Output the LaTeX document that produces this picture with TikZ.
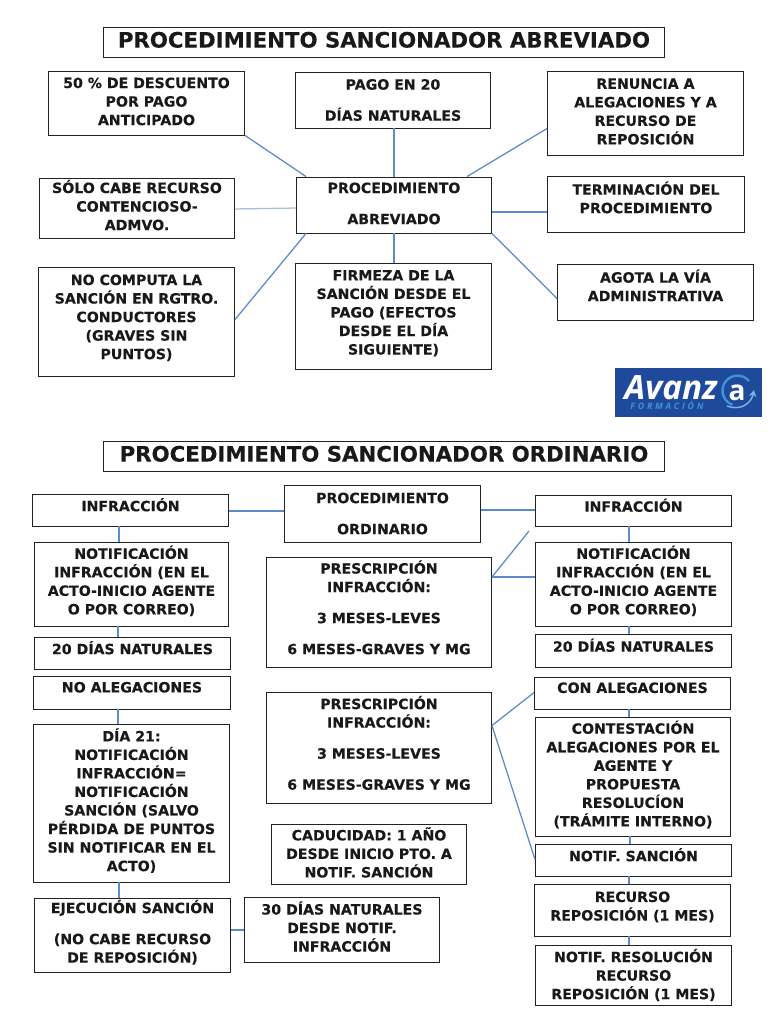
\documentclass[tikz,border=0pt]{standalone}
\usepackage{fontspec}
\setmainfont{DejaVu Sans}[BoldFeatures={FakeBold=0.2}]
\newfontfamily\logofont{Open Sans}
\usetikzlibrary{calc,arrows.meta}
\definecolor{edgeblue}{HTML}{5B8BCB}
\definecolor{boxedge}{HTML}{222222}
\definecolor{logoblue}{HTML}{1F4A9B}
\definecolor{logosky}{HTML}{3F93D6}
\tikzset{
  boxst/.style={draw=boxedge,line width=0.7pt,fill=white,inner sep=0pt,align=center,
    font=\fontsize{10.6}{13.9}\selectfont\bfseries,text=black!90},
  titlest/.style={boxst,font=\fontsize{15.95}{17}\selectfont\bfseries},
  link/.style={draw=edgeblue,line width=0.95pt},
}
\newcommand{\bx}[7][]{\node[boxst,#1,minimum width={(#5-#3)*0.75pt},minimum height={(#6-#4)*0.75pt}] (#2) at ({(#3+#5)/2-0.5},{(#4+#6)/2}) {#7};}
\newcommand{\gap}{\\[9.4pt]}
\begin{document}
\begin{tikzpicture}[x=0.75pt,y=-0.75pt]
\useasboundingbox (0,0) rectangle (768,1024);
% upper chart
\bx[titlest,text depth=3.5pt]{t1}{104}{27}{665}{57}{PROCEDIMIENTO SANCIONADOR ABREVIADO}
\bx[text depth=2.5pt]{a1}{49}{71}{245}{135}{50 \% DE DESCUENTO\\POR PAGO\\ANTICIPADO}
\bx{a2}{296}{72}{491}{128}{PAGO EN 20\gap DÍAS NATURALES}
\bx[text depth=2.5pt]{a3}{548}{71}{744}{155}{RENUNCIA A\\ALEGACIONES Y A\\RECURSO DE\\REPOSICIÓN}
\bx[text depth=2.5pt]{pa}{297}{177}{492}{233}{PROCEDIMIENTO\gap ABREVIADO}
\bx[text depth=4.5pt]{a4}{40}{178}{235}{238}{SÓLO CABE RECURSO\\CONTENCIOSO-\\ADMVO.}
\bx[text depth=10pt]{a5}{548}{176}{745}{232}{TERMINACIÓN DEL\\PROCEDIMIENTO}
\bx[text depth=7pt]{a6}{39}{267}{235}{376}{NO COMPUTA LA\\SANCIÓN EN RGTRO.\\CONDUCTORES\\(GRAVES SIN\\PUNTOS)}
\bx[text depth=5.5pt]{a7}{296}{263}{492}{369}{FIRMEZA DE LA\\SANCIÓN DESDE EL\\PAGO (EFECTOS\\DESDE EL DÍA\\SIGUIENTE)}
\bx[text depth=10pt]{a8}{558}{264}{754}{320}{AGOTA LA VÍA\\ADMINISTRATIVA}
\draw[link] (a1.south east) -- ($(pa.north west)+(10,0)$);
\draw[link] ($(a2.south west)+(99,0)$) -- ($(pa.north west)+(98,0)$);
\draw[link] ($(a3.south west)+(0,-27)$) -- ($(pa.north west)+(171,0)$);
\draw[link,draw=edgeblue!55] ($(a4.south east)+(0,-29.5)$) -- ($(pa.north west)+(0,31.5)$);
\draw[link] ($(pa.north east)+(0,35.5)$) -- ($(a5.north west)+(0,36.5)$);
\draw[link] ($(a6.north east)+(0,53)$) -- ($(pa.south west)+(10,0)$);
\draw[link] ($(pa.south west)+(98,0)$) -- ($(a7.north west)+(99,0)$);
\draw[link] (pa.south east) -- ($(a8.north west)+(0,35)$);
% logo
\node[fill=logoblue,minimum width={147*0.75pt},minimum height={49*0.75pt},inner sep=0pt] (logo) at (688.5,392.5) {};
\node[anchor=base west,inner sep=0pt,text=white,font=\fontsize{25}{25}\logofont\bfseries\itshape] (logoa) at (624,399) {Avanz};
\node[anchor=base west,inner sep=0pt,text=logosky,font=\fontsize{6.6}{7}\logofont\bfseries\itshape\addfontfeature{LetterSpace=32}] (logob) at (630,409.5) {FORMACIÓN};
\draw[logosky,line width=1.8pt] (749,381) arc (-40:-250:15);
\draw[logosky!70,line width=1.1pt,-{Stealth[length=5pt,width=5.5pt]}] (727,406) .. controls (740,411) and (751,404) .. (754,390);
\node[anchor=base,inner sep=0pt,text=white,font=\fontsize{21}{21}\logofont\bfseries] (logoc) at (737,400) {a};
% lower chart
\bx[titlest,text depth=3.5pt]{t2}{104}{441}{665}{471}{PROCEDIMIENTO SANCIONADOR ORDINARIO}
\bx[text depth=8pt]{b1}{33}{494}{229}{526}{INFRACCIÓN}
\bx[text depth=6pt]{b2}{35}{542}{229}{626}{NOTIFICACIÓN\\INFRACCIÓN (EN EL\\ACTO-INICIO AGENTE\\O POR CORREO)}
\bx[text depth=8pt]{b3}{35}{637}{231}{669}{20 DÍAS NATURALES}
\bx[text depth=8pt]{b4}{34}{676}{231}{709}{NO ALEGACIONES}
\bx[text depth=5pt]{b5}{34}{724}{230}{882}{DÍA 21:\\NOTIFICACIÓN\\INFRACCIÓN=\\NOTIFICACIÓN\\SANCIÓN (SALVO\\PÉRDIDA DE PUNTOS\\SIN NOTIFICAR EN EL\\ACTO)}
\bx[text depth=5.5pt]{b6}{35}{898}{231}{972}{EJECUCIÓN SANCIÓN\gap (NO CABE RECURSO\\DE REPOSICIÓN)}
\bx{c1}{285}{485}{481}{542}{PROCEDIMIENTO\gap ORDINARIO}
\bx[text depth=7pt]{c2}{267}{557}{492}{667}{PRESCRIPCIÓN\\INFRACCIÓN:\gap 3 MESES-LEVES\gap 6 MESES-GRAVES Y MG}
\bx[text depth=7pt]{c3}{267}{692}{492}{803}{PRESCRIPCIÓN\\INFRACCIÓN:\gap 3 MESES-LEVES\gap 6 MESES-GRAVES Y MG}
\bx[text depth=2.5pt]{c4}{272}{824}{467}{884}{CADUCIDAD: 1 AÑO\\DESDE INICIO PTO. A\\NOTIF. SANCIÓN}
\bx[text depth=4.5pt]{c5}{245}{897}{440}{962}{30 DÍAS NATURALES\\DESDE NOTIF.\\INFRACCIÓN}
\bx[text depth=8pt]{d1}{536}{495}{732}{526}{INFRACCIÓN}
\bx[text depth=6pt]{d2}{536}{542}{732}{626}{NOTIFICACIÓN\\INFRACCIÓN (EN EL\\ACTO-INICIO AGENTE\\O POR CORREO)}
\bx[text depth=8pt]{d3}{536}{634}{732}{667}{20 DÍAS NATURALES}
\bx[text depth=8pt]{d4}{535}{677}{731}{709}{CON ALEGACIONES}
\bx[text depth=4.5pt]{d5}{536}{717}{731}{836}{CONTESTACIÓN\\ALEGACIONES POR EL\\AGENTE Y\\PROPUESTA\\RESOLUCÍON\\(TRÁMITE INTERNO)}
\bx[text depth=8pt]{d6}{536}{844}{732}{876}{NOTIF. SANCIÓN}
\bx[text depth=6pt]{d7}{535}{884}{731}{936}{RECURSO\\REPOSICIÓN (1 MES)}
\bx{d8}{536}{945}{732}{1005}{NOTIF. RESOLUCIÓN\\RECURSO\\REPOSICIÓN (1 MES)}
\coordinate (free) at (529,531);
\draw[link] ($(b1.south west)+(87,0)$) -- ($(b2.north west)+(85,0)$);
\draw[link] ($(b2.south west)+(84,0)$) -- ($(b3.north west)+(84,0)$);
\draw[link] ($(b4.south west)+(85,0)$) -- ($(b5.north west)+(85,0)$);
\draw[link] ($(b5.south west)+(86,0)$) -- ($(b6.north west)+(85,0)$);
\draw[link] ($(b6.north east)+(0,32.5)$) -- ($(c5.north west)+(0,33.5)$);
\draw[link] ($(b1.north east)+(0,17.5)$) -- ($(c1.north west)+(0,26.5)$);
\draw[link] ($(c1.north east)+(0,25.5)$) -- ($(d1.north west)+(0,15.5)$);
\draw[link] ($(c2.north east)+(0,20.5)$) -- ($(d2.north west)+(0,35.5)$);
\draw[link] ($(c2.north east)+(0,20.5)$) -- (free);
\draw[link] ($(c3.north east)+(0,34)$) -- ($(d4.north west)+(0,16)$);
\draw[link] ($(c3.north east)+(0,34)$) -- ($(d6.north west)+(0,16)$);
\draw[link] ($(d1.south west)+(94,0)$) -- ($(d2.north west)+(94,0)$);
\draw[link] ($(d2.south west)+(94,0)$) -- ($(d3.north west)+(94,0)$);
\draw[link] ($(d4.south west)+(95,0)$) -- ($(d5.north west)+(94,0)$);
\draw[link] ($(d5.south west)+(95,0)$) -- ($(d6.north west)+(95,0)$);
\draw[link] ($(d6.south west)+(94,0)$) -- ($(d7.north west)+(95,0)$);
\draw[link] ($(d7.south west)+(95,0)$) -- ($(d8.north west)+(94,0)$);
\end{tikzpicture}
\end{document}
